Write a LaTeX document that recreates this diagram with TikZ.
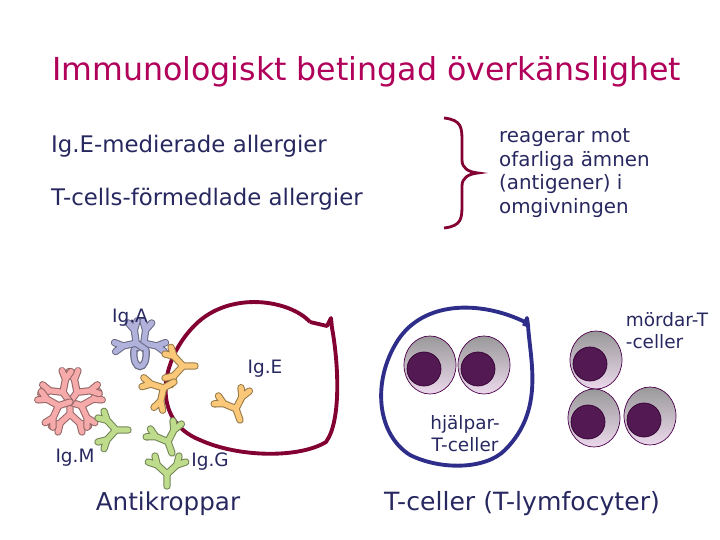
\documentclass[tikz,border=0pt]{standalone}
\usepackage{fontspec}
\setmainfont{DejaVu Sans}
\usetikzlibrary{positioning}
\definecolor{titlecol}{RGB}{176,0,90}
\definecolor{textcol}{RGB}{40,40,96}
\definecolor{loopred}{RGB}{130,0,50}
\definecolor{loopblue}{RGB}{46,46,138}
\definecolor{abA}{RGB}{176,178,220}
\definecolor{abM}{RGB}{246,170,170}
\definecolor{abE}{RGB}{250,200,120}
\definecolor{abG}{RGB}{190,220,140}
\tikzstyle{label} = [text=textcol, font=\fontsize{13}{15}\selectfont, align=left]
\tikzstyle{small} = [text=textcol, font=\fontsize{10.5}{12.5}\selectfont, align=left]
\tikzstyle{loop} = [line width=2.2pt, line join=round]
% antibody: #1 stem end, #2 rotation, #3 colour
\newcommand{\antibody}[3]{
  \begin{scope}[shift={#1}, rotate=#2, scale=0.75]
    \foreach \lw/\c in {4.2pt/#3!60!black, 3pt/#3}{
      \draw[line width=\lw, color=\c, line cap=round, line join=round]
        (0,0) -- (0,16) -- (-13,28) -- (-16,40) (-13,28) -- (-25,32)
        (0,16) -- (13,28) -- (16,40) (13,28) -- (25,32);
    }
  \end{scope}
}
\newcommand{\tcell}[1]{
  \shade[shift={#1}, top color=gray!80, bottom color=violet!15, draw=violet!60!black, thin]
    (0,0) ellipse (26 and 29);
  \fill[shift={#1}, violet!50!black!90, draw=violet!40!black] (-6,4) circle (17);
}
\begin{document}
\begin{tikzpicture}[x=0.02cm, y=-0.02cm]
\useasboundingbox (0,0) rectangle (720,540);
\node (title) [anchor=west, text=titlecol, font=\fontsize{18}{20}\selectfont] at (46,72) {Immunologiskt betingad överkänslighet};
\node (ige) [label, anchor=west] at (45,146) {Ig.E-medierade allergier};
\node (tcell) [label, anchor=west] at (45,199) {T-cells-förmedlade allergier};
\node (react) [label, anchor=west, font=\fontsize{11.3}{13.5}\selectfont] at (493,173) {reagerar mot\\ofarliga ämnen\\(antigener) i\\omgivningen};
\coordinate (btop) at (444,118);
\coordinate (bbot) at (444,228);
\draw[loopred, line width=1.6pt] (btop) .. controls (462,120) and (462,128) .. (462,142)
  -- (462,160) .. controls (462,168) and (468,172) .. (478,173)
  .. controls (468,174) and (462,178) .. (462,186) -- (462,204)
  .. controls (462,218) and (462,226) .. (bbot);
% antibodies
\draw[loopred, loop] (310,322) .. controls (290,300) and (230,290) .. (195,325)
  .. controls (160,360) and (150,420) .. (200,440)
  .. controls (240,458) and (300,458) .. (326,442)
  .. controls (342,420) and (338,360) .. (332,328) -- (331,318) -- (327,326) -- (310,322);
\antibody{(134,350)}{125}{abA}
\antibody{(146,350)}{-125}{abA}
\draw[abA!60!black, line width=4.2pt] (134,350) .. controls (132,372) and (148,372) .. (146,350);
\draw[abA, line width=2.8pt] (134,350) .. controls (132,372) and (148,372) .. (146,350);
\foreach \a in {0,72,144,216,288}{\antibody{(70,402)}{\a}{abM}}
\antibody{(195,366)}{-90}{abE}
\antibody{(174,382)}{-60}{abE}
\antibody{(240,420)}{200}{abE}
\antibody{(128,430)}{-90}{abG}
\antibody{(172,453)}{200}{abG}
\antibody{(167,486)}{180}{abG}
\node (iga) [small] at (130,318) {Ig.A};
\node (igeL) [small] at (265,369) {Ig.E};
\node (igm) [small] at (75,458) {Ig.M};
\node (igg) [small] at (210,462) {Ig.G};
\node (anti) [label, font=\fontsize{14}{16}\selectfont] at (168,504) {Antikroppar};
% T-cells
\draw[loopblue, loop] (525,322) .. controls (480,300) and (420,300) .. (395,345)
  .. controls (372,385) and (378,435) .. (410,455)
  .. controls (440,470) and (485,470) .. (505,450)
  .. controls (545,410) and (530,360) .. (528,325) -- (527,318) -- (524,326);
\tcell{(430,365)}
\tcell{(484,365)}
\tcell{(596,360)}
\tcell{(594,418)}
\tcell{(650,416)}
\node (help) [small, align=center] at (465,434) {hjälpar-\\T-celler};
\node (kill) [small] at (667,331) {mördar-T\\-celler};
\node (tlym) [label, font=\fontsize{14.3}{16}\selectfont] at (522,504) {T-celler (T-lymfocyter)};
\end{tikzpicture}
\end{document}
